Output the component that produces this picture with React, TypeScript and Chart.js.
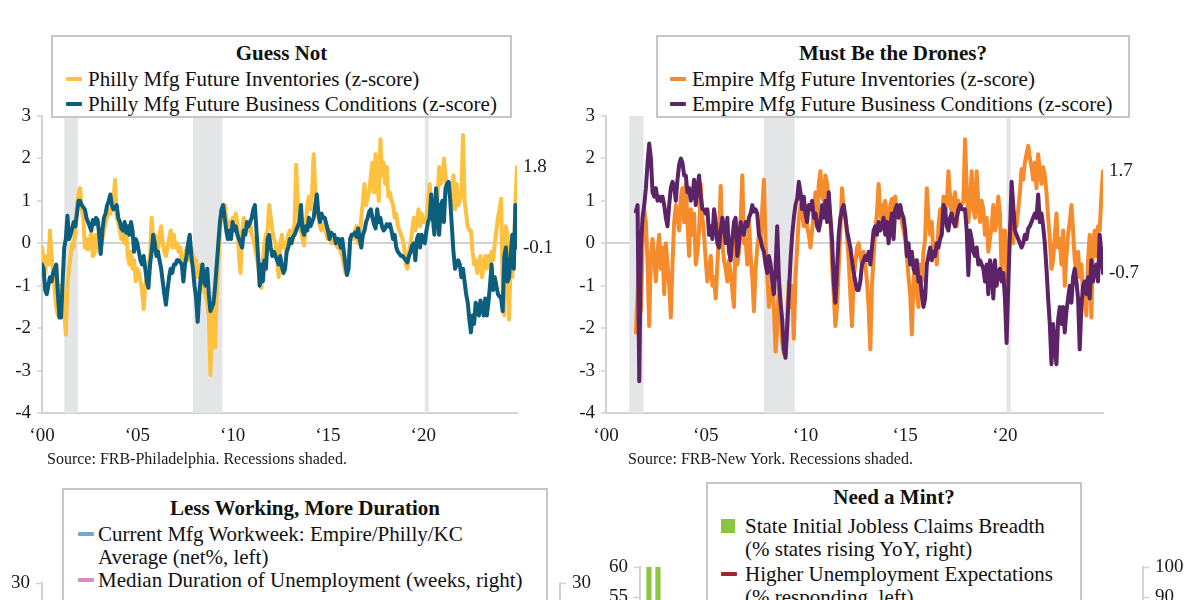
import React, { useEffect, useRef } from "react";
import { Chart, registerables } from "chart.js";

Chart.register(...registerables);

const SERIF = "'Liberation Serif', 'Times New Roman', serif";
const TEXT = "#1a1a1a";
const AXIS = "#d2d2d2";

// ---------- shared axis data ----------
const yearTicks = [2000, 2005, 2010, 2015, 2020];
const yearTickLabels = ["\u201800", "\u201805", "\u201810", "\u201815", "\u201820"];
const recessionStarts = [2001.17, 2007.92, 2020.08];
const recessionEnds = [2001.88, 2009.46, 2020.29];

// ---------- Guess Not (monthly, Jan 2000 - Dec 2024) ----------
const phillyStart = 2000;
const phillyInventories = [
  -0.1, -0.4, -0.7, -0.3, -0.5, 0.3, -0.3, -0.7, -1.1, -1.5, -1.7, -1.0,
  -1.3, -1.1, -1.6, -2.15, -1.0, -0.6, -0.3, 0.0, -0.1, 0.3, 0.85, 1.2,
  1.3, 0.8, 0.6, -0.1, 0.1, -0.15, 0.0, 0.3, -0.3, -0.25, 0.2, 0.1, -0.2,
  -0.1, 0.1, 0.3, 0.5, 0.6, 0.8, 0.7, 0.9, 1.0, 1.5, 0.6, 0.5,
  0.3, 0.1, 0.2, 0.0, 0.3, -0.3, -0.5, -0.2, -0.6, -0.4, -0.9, -0.6,
  -0.7, -0.9, -1.1, -1.55, -1.0, -0.8, -0.5, -0.3, 0.6, 0.1, 0.2, -0.1,
  -0.2, 0.2, 0.4, 0.0, -0.2, -0.3, -0.1, 0.1, 0.3, -0.1, 0.2, -0.1, 0.0,
  -0.2, -0.1, -0.4, -0.7, -0.3, -0.1, -0.4, -0.3, -0.1, -0.3, -0.5, -0.4,
  -0.8, -0.6, -0.5, -0.9, -1.1, -1.2, -1.4, -1.7, -3.1, -1.9, -1.5, -2.45,
  -1.2, -0.5, 0.3, 0.7, 0.75, 0.9, 0.6, 0.4, 0.5, 0.3, 0.6, 0.5,
  0.7, 0.5, -0.3, -0.7, 0.3, 0.6, 0.5, 0.4, 0.3, 0.5, 0.2, 0.1, -0.1,
  -0.3, -0.5, -0.8, -1.05, -0.4, 0.0, 0.2, 0.3, 0.9, 0.6, 0.3, 0.1,
  0.0, -0.4, -0.8, 0.0, 0.2, -0.1, 0.0, -0.2, 0.2, 0.3, 0.0, 0.1,
  0.5, 1.85, 0.9, 0.5, 0.3, 0.1, -0.05, 0.4, 0.9, 1.1, 0.8, 1.2,
  2.1, 1.3, 0.8, 0.6, 0.4, 0.3, 0.4, 0.5, 0.2, 0.1, 0.3, 0.0, 0.2,
  0.0, 0.1, -0.1, 0.0, -0.2, -0.3, -0.5, -0.7, -0.6, -0.4, 0.1, 0.2,
  0.1, 0.3, 0.4, 0.0, 0.2, 0.6, 1.0, 1.4, 0.9, 1.1, 1.2, 1.6,
  1.9, 1.2, 2.1, 1.5, 1.0, 2.45, 1.6, 1.9, 1.4, 1.8, 1.1, 1.2,
  1.0, 0.9, 0.6, 0.7, 0.4, 0.3, 0.2, 0.1, -0.1, -0.5, -0.6, -0.2, 0.0,
  0.3, 0.6, 0.3, 0.5, 0.8, 0.4, 0.7, 0.5, 0.5, 0.6, 1.0, 1.4,
  1.0, 0.7, 0.4, 0.3, 1.1, 1.8, 1.4, 1.5, 2.0, 1.6, 1.2, 1.3,
  1.1, 0.9, 1.6, 0.8, 1.4, 0.9, 1.0, 1.2, 2.55, 1.0, 0.7, 0.4, 0.3,
  0.3, -0.2, -0.5, -0.4, -0.7, -0.5, -0.3, -0.8, -0.5, -0.3, -0.6, -0.3,
  -0.5, -0.2, -0.4, 0.0, 0.3, 0.6, 0.8, 1.05, -1.1, -1.7, 0.4, 0.2, -1.8,
  -0.4, -0.8, -0.3, 1.0, 1.8,
];
const phillyBusiness = [
  -0.5, -0.6, -1.1, -1.2, -1.0, -0.8, -0.9, -0.7, -0.6, -0.5, -1.2, -1.75,
  -1.75, -0.9, -0.1, 0.1, 0.65, 0.1, 0.2, 0.35, 0.5, 0.4, 0.7, 1.0,
  1.0, 0.9, 0.85, 0.8, 0.6, 0.5, 0.4, 0.3, 0.55, 0.45, 0.6, 0.55, 0.2,
  -0.25, 0.3, 0.6, 0.7, 0.9, 1.0, 1.15, 0.9, 0.8, 0.85, 0.9, 0.6,
  0.5, 0.35, 0.3, 0.5, 0.25, 0.4, 0.2, 0.5, 0.3, -0.2, 0.1, 0.0,
  -0.2, -0.4, -0.5, -0.3, -0.6, -0.9, -1.05, -0.5, -0.2, 0.2, 0.0, -0.3,
  -0.2, -0.4, -0.6, -0.9, -1.2, -1.45, -1.1, -0.8, -0.6, -0.7, -0.5, -0.5, -0.4,
  -0.4, -0.45, -0.5, -0.9, -0.5, -0.3, 0.0, 0.2, -0.3, -0.6, -1.0, -1.3,
  -1.85, -1.2, -0.8, -0.5, -0.9, -1.0, -0.6, -1.2, -1.6, -1.5, -1.4, -1.0,
  -0.5, 0.0, 0.5, 0.8, 0.9, 0.6, 0.3, 0.1, 0.3, 0.1, 0.5, 0.3,
  0.4, 0.2, 0.1, 0.0, -0.1, 0.3, 0.2, 0.5, 0.4, 0.5, 0.6, 0.8, 0.9,
  0.3, -0.3, -1.0, -0.5, -0.9, -0.4, -0.6, 0.1, 0.2, -0.1, -0.3, -0.2,
  -0.3, -0.4, -0.5, -0.3, -0.55, -0.7, -0.6, -0.2, -0.1, 0.1, 0.0, 0.15,
  0.2, 0.3, 0.4, 0.5, 0.9, 0.3, 0.2, 0.4, 0.3, 0.6, 0.4, 0.5,
  0.6, 0.9, 1.15, 0.7, 0.5, 0.7, 0.6, 0.6, 0.45, 0.3, 0.1, 0.25, 0.2,
  0.2, 0.0, 0.1, 0.1, -0.1, 0.1, -0.2, -0.5, -0.75, -0.6, 0.1, 0.2,
  0.2, 0.25, 0.15, 0.35, 0.1, -0.1, 0.2, 0.3, 0.5, 0.6, 0.75, 0.8,
  0.6, 0.45, 0.35, 0.8, 0.5, 0.6, 0.4, 0.3, 0.35, 0.45, 0.4, 0.45,
  0.3, 0.1, 0.2, -0.1, -0.2, -0.25, -0.3, -0.3, -0.35, -0.4, -0.45, -0.3, -0.2,
  -0.05, 0.0, -0.4, 0.1, 0.2, -0.1, 0.2, 0.1, 0.0, 0.3, 0.5, 0.6,
  1.15, 0.6, 0.2, 1.3, 0.8, 0.2, 0.9, 1.0, 0.5, 1.3, 1.4, 1.45,
  1.0, 0.4, -0.2, -0.6, -0.5, -0.4, -0.5, -0.8, -0.6, -0.9, -1.2, -1.4, -1.8,
  -2.1, -1.7, -1.9, -1.4, -1.5, -1.7, -1.35, -1.5, -1.7, -1.3, -1.7, -1.4,
  -1.0, -0.5, -1.1, -0.8, -1.0, -1.2, -1.25, -1.3, -1.6, -0.3, -0.1, -0.9, -0.8,
  -0.3, 0.2, -0.6, 0.9, -0.1,
];

// ---------- Must Be the Drones? (monthly, Jul 2001 - Dec 2024) ----------
const empireStart = 2001.5;
const empireInventories = [
  -2.1, -1.2, -0.5, -1.6, 0.0, 0.8,
  0.5, -0.5, -1.95, -0.3, 0.1, -0.4, -0.9, -0.2, 0.2, -0.6, -0.1, -1.2,
  0.0, -0.5, -1.0, -1.75, -0.5, 0.5, 0.9, 0.6, 0.3, 1.1, 1.3, 0.5,
  1.4, 0.5, -0.3, 0.8, 0.2, 0.7, -0.5, -0.2, 0.3, 1.4, 0.6, 0.2,
  -0.4, -0.9, -0.6, -0.3, -1.0, -0.8, -1.3, -0.5, 0.2, 1.35, 0.0, -0.4,
  -0.6, -0.9, -0.4, -0.7, -1.1, -1.5, 0.2, -0.5, -0.2, 0.5, 1.6, 0.0,
  0.1, -0.5, 0.6, -0.3, -0.8, -1.6, -0.6, -0.1, 0.2, 0.1, 0.8, 1.5,
  0.0, -0.7, -1.5, -1.2, -1.0, -1.5, -2.55, -2.0, -1.0, -1.4, -2.3, -2.6,
  -2.6, -1.8, -0.9, -1.5, -1.0, -2.25, -0.8, -0.1, 0.6, 0.9, 0.7, 0.4,
  0.8, 0.4, 0.2, -0.1, 0.3, 0.7, 1.2, 0.4, 1.4, 1.7, 1.1, 1.0,
  1.6, 1.4, 1.0, 0.6, -0.5, -1.2, -1.95, -1.5, -0.6, 0.3, 1.3, 0.8,
  0.7, 0.2, -0.4, -1.2, -1.95, -0.8, -0.5, -0.1, 0.0, -0.3, -0.5, -0.2,
  -0.5, -0.9, -1.5, -2.5, -1.0, -0.3, 0.3, 0.7, 1.4, 0.7, 0.5, 0.9,
  1.0, 0.6, 0.3, 0.9, 1.05, 0.4, 1.1, 0.7, 0.8, 0.9, 0.5, 0.3,
  0.1, -0.3, -0.8, -1.2, -2.15, -0.9, -0.4, -1.2, -1.5, -0.5, -0.9, -0.2,
  0.1, 1.3, 0.6, 0.2, 0.5, -0.3, 0.0, -0.5, 0.4, 0.8, 0.3, 1.1,
  0.7, 0.9, 1.7, 1.1, 0.6, 1.0, 1.2, 0.4, 1.0, 0.8, 0.9, 1.0,
  2.45, 1.3, 0.5, 1.0, 1.7, 0.8, 0.6, 1.7, 0.9, 0.5, 1.0, 0.8,
  0.2, 0.6, -0.2, 0.1, 0.4, 0.9, 0.3, 0.5, 1.1, 0.7, -0.7, 0.3,
  0.3, -0.9, -0.5, 0.4, 0.6, 0.0, 0.7, 0.4, 0.8, 1.2, 1.75, 1.5,
  1.9, 2.1, 2.3, 2.0, 1.8, 1.5, 1.9, 1.3, 2.1, 1.7, 1.4, 1.8,
  1.6, 1.2, 0.6, 0.1, -0.6, -0.4, 0.2, 0.7, -0.1, 0.1, -0.5, 0.3,
  -1.0, -0.3, 0.2, 0.5, 0.9, 0.3, -0.4, -0.7, -0.2, -0.8, -0.5, -1.2,
  -1.4, -1.7, -0.4, 0.2, -1.75, 0.0, 0.3, -0.3, 0.4, 0.3, 1.1, 1.7,
];
const empireBusiness = [
  0.75, 0.9, -3.25, -0.1, 0.6, 0.9,
  1.3, 1.9, 2.35, 2.0, 1.2, 1.1, 1.3, 1.0, 1.1, 1.0, 1.1, 0.9,
  0.6, 0.4, 0.9, 1.3, 1.45, 1.35, 1.0, 1.5, 1.85, 2.0, 1.9, 1.6,
  1.6, 1.2, 1.3, 1.0, 1.1, 1.5, 0.9, 1.3, 1.6, 1.1, 0.8, 0.8,
  0.7, 0.8, 0.2, 0.4, 0.1, 0.8, 0.5, 0.0, -0.1, 0.3, 0.6, 0.4,
  0.0, 0.6, -0.2, -0.4, 0.1, 0.5, 0.6, -0.3, 0.0, 0.5, 0.3, 0.2,
  0.5, 0.4, 0.6, 0.7, 0.9, 0.75, 0.8, 0.7, 0.2, 0.1, -0.1, -0.2,
  -0.5, -0.7, -0.3, -0.5, -0.9, -1.2, -0.6, 0.4, -0.8, -1.4, -1.8, -2.5,
  -2.7, -2.0, -1.2, -0.4, 0.2, 0.6, 0.9, 1.05, 1.45, 1.2, 0.8, 1.1,
  0.7, 0.5, 0.9, 0.8, 1.0, 0.6, 0.7, 0.4, 0.3, 0.5, 0.9, 0.6,
  1.0, 0.5, 1.2, 0.6, 0.1, -0.9, -1.4, -0.6, 0.2, 0.6, 0.8, 0.9,
  0.6, 0.3, 0.1, -0.1, -0.4, -0.7, -0.9, -1.1, -1.1, -0.9, -0.5, -0.4,
  -0.3, -0.4, -0.2, -0.5, -0.1, 0.3, 0.4, 0.2, 0.5, 0.3, 0.4, 0.6,
  0.2, 0.5, 0.0, 0.4, 0.7, 0.1, 0.8, 0.9, 0.6, 0.9, 0.7, 0.6,
  0.3, -0.3, 0.0, -0.5, -0.2, -0.6, -0.7, -0.4, -0.9, -0.8, -1.2, -1.5,
  -1.3, -0.5, -0.3, -0.1, -0.4, -0.2, -0.3, 0.0, -0.1, 0.1, 0.2, 0.9,
  0.8, 0.4, 0.3, 0.6, 0.7, 0.5, 0.4, 0.6, 0.8, 0.9, 0.8, 0.8,
  0.8, 0.3, -0.75, 0.3, 0.1, -0.2, -0.3, -0.1, -0.5, -0.4, -0.5, -0.6,
  -0.9, -0.5, -1.2, -0.4, -0.6, -1.3, -0.4, -1.0, -0.7, -0.6, -0.9, -0.7,
  -1.3, -2.35, -1.0, 0.2, 1.45, 0.9, 0.3, 0.2, 0.1, 0.0, -0.1, 0.0,
  0.2, 0.1, 0.35, 0.4, 0.5, 0.6, 0.7, 0.6, 1.15, 0.5, 0.7, 0.4,
  0.0, -0.6, -1.3, -1.9, -2.85, -1.9, -2.4, -2.85, -1.8, -1.5, -1.9, -1.5,
  -2.1, -1.6, -1.3, -1.0, -1.4, -0.8, -0.6, -0.9, -1.3, -2.5, -1.5, -1.0,
  -0.9, -1.2, -0.8, -1.3, -0.4, -0.9, -0.6, -0.5, -0.9, 0.2, -0.2, -0.7,
];

// ---------- bottom panels (only their top edge is inside the picture) ----------
const workweekNetPct: number[] = []; // below the visible area
const medianDurationWeeks: number[] = []; // below the visible area
const claimsPeriods = [1, 2];
const claimsBreadthPct = [100, 100];
const unemploymentExpectationsPct: number[] = []; // below the visible area

const monthly = (start: number, vals: number[]) =>
  vals.map((v, i) => ({ x: start + i / 12, y: v }));

const recessionPlugin = {
  id: "recessions",
  beforeDatasetsDraw(chart: any) {
    const { ctx, chartArea, scales } = chart;
    const xs = scales.x;
    ctx.save();
    ctx.fillStyle = "#e4e5e7";
    recessionStarts.forEach((s, i) => {
      const x0 = xs.getPixelForValue(s);
      const x1 = xs.getPixelForValue(recessionEnds[i]);
      ctx.fillRect(x0, chartArea.top, x1 - x0, chartArea.bottom - chartArea.top);
    });
    ctx.restore();
  },
};

const endLabelPlugin = {
  id: "endLabels",
  afterDatasetsDraw(chart: any) {
    const { ctx, chartArea } = chart;
    ctx.save();
    ctx.font = `19px ${SERIF}`;
    ctx.fillStyle = TEXT;
    ctx.textBaseline = "middle";
    ctx.textAlign = "left";
    chart.data.datasets.forEach((ds: any, i: number) => {
      const meta = chart.getDatasetMeta(i);
      const pt = meta.data[meta.data.length - 1];
      const v = ds.data[ds.data.length - 1].y;
      ctx.fillText(v.toFixed(1), chartArea.right + 6, pt.y);
    });
    ctx.restore();
  },
};

function zScoreConfig(datasets: any[], axisWidth: number, padRight: number) {
  return {
    type: "line",
    data: { datasets },
    options: {
      animation: false,
      responsive: false,
      maintainAspectRatio: false,
      layout: { padding: { top: 116, right: padRight, bottom: 37, left: 0 } },
      plugins: { legend: { display: false }, tooltip: { enabled: false } },
      elements: {
        point: { radius: 0 },
        line: { borderWidth: 4, tension: 0, borderJoinStyle: "round", borderCapStyle: "round" },
      },
      scales: {
        x: {
          type: "linear",
          min: 2000,
          max: 2024 + 11 / 12,
          afterBuildTicks: (s: any) => {
            s.ticks = yearTicks.map((v) => ({ value: v }));
          },
          afterFit: (s: any) => {
            s.height = 30;
          },
          grid: { display: true, color: "rgba(0,0,0,0)", drawTicks: false },
          border: { display: true, color: AXIS, width: 2 },
          ticks: {
            autoSkip: false,
            maxRotation: 0,
            padding: 12,
            color: TEXT,
            font: { size: 19, family: SERIF },
            callback: (v: number) => yearTickLabels[yearTicks.indexOf(v)] ?? "",
          },
        },
        y: {
          min: -4,
          max: 3,
          afterFit: (s: any) => {
            s.width = axisWidth;
          },
          ticks: { stepSize: 1, padding: 6, color: TEXT, font: { size: 19, family: SERIF } },
          grid: {
            color: (c: any) => (c.tick && c.tick.value === 0 ? AXIS : "rgba(0,0,0,0)"),
            lineWidth: 2,
            tickColor: AXIS,
            tickLength: 5,
            tickWidth: 1.5,
          },
          border: { display: true, color: AXIS, width: 2 },
        },
      },
    },
    plugins: [recessionPlugin, endLabelPlugin],
  };
}

const phillyConfig = () =>
  zScoreConfig(
    [
      {
        label: "Philly Mfg Future Inventories (z-score)",
        data: monthly(phillyStart, phillyInventories),
        borderColor: "#fcc13f",
        order: 2,
      },
      {
        label: "Philly Mfg Future Business Conditions (z-score)",
        data: monthly(phillyStart, phillyBusiness),
        borderColor: "#0d5d7d",
        order: 1,
      },
    ],
    42,
    43
  );

const empireConfig = () =>
  zScoreConfig(
    [
      {
        label: "Empire Mfg Future Inventories (z-score)",
        data: monthly(empireStart, empireInventories),
        borderColor: "#f68b2c",
        order: 2,
      },
      {
        label: "Empire Mfg Future Business Conditions (z-score)",
        data: monthly(empireStart, empireBusiness),
        borderColor: "#5c2366",
        order: 1,
      },
    ],
    46,
    97
  );

const sideAxis = (pos: string, min: number, max: number, step: number, width: number) => ({
  position: pos,
  min,
  max,
  afterFit: (s: any) => {
    s.width = width;
  },
  ticks: { stepSize: step, padding: 6, color: TEXT, font: { size: 19, family: SERIF } },
  grid: { drawOnChartArea: false, tickColor: AXIS, tickLength: 6, tickWidth: 1.5 },
  border: { display: true, color: AXIS, width: 2 },
});

const workweekConfig = () => ({
  type: "line",
  data: {
    datasets: [
      {
        label: "Current Mfg Workweek: Empire/Philly/KC Average (net%, left)",
        data: workweekNetPct,
        borderColor: "#6fa8dc",
        yAxisID: "yL",
      },
      {
        label: "Median Duration of Unemployment (weeks, right)",
        data: medianDurationWeeks,
        borderColor: "#d98cc3",
        yAxisID: "yR",
      },
    ],
  },
  options: {
    animation: false,
    responsive: false,
    maintainAspectRatio: false,
    layout: { padding: { top: 43, right: 0, bottom: 20, left: 0 } },
    plugins: { legend: { display: false }, tooltip: { enabled: false } },
    scales: {
      x: { type: "linear", display: false, min: 0, max: 1 },
      yL: sideAxis("left", -30, 30, 10, 42),
      yR: sideAxis("right", 0, 30, 5, 40),
    },
  },
});

const mintConfig = () => ({
  type: "bar",
  data: {
    datasets: [
      {
        type: "bar",
        label: "State Initial Jobless Claims Breadth (% states rising YoY, right)",
        data: claimsPeriods.map((p, i) => ({ x: p, y: claimsBreadthPct[i] })),
        backgroundColor: "#8cc63f",
        barThickness: 4.5,
        yAxisID: "yR",
      },
      {
        type: "line",
        label: "Higher Unemployment Expectations (% responding, left)",
        data: unemploymentExpectationsPct,
        borderColor: "#a0232f",
        yAxisID: "yL",
      },
    ],
  },
  options: {
    animation: false,
    responsive: false,
    maintainAspectRatio: false,
    layout: { padding: { top: 27, right: 0, bottom: 10, left: 0 } },
    plugins: { legend: { display: false }, tooltip: { enabled: false } },
    scales: {
      x: { type: "linear", display: false, min: 0, max: 56, offset: false },
      yL: sideAxis("left", 10, 60, 5, 40),
      yR: sideAxis("right", 0, 100, 10, 57),
    },
  },
});

function ChartCanvas(props: { left: number; top: number; width: number; height: number; makeConfig: () => any }) {
  const ref = useRef<HTMLCanvasElement>(null);
  useEffect(() => {
    const chart = new Chart(ref.current as HTMLCanvasElement, props.makeConfig());
    return () => chart.destroy();
  }, []);
  return (
    <canvas
      ref={ref}
      width={props.width}
      height={props.height}
      style={{ position: "absolute", left: props.left, top: props.top, width: props.width, height: props.height }}
    />
  );
}

type Item = { kind: "line" | "square"; color?: string; x: number; y: number; text: string; textX: number };

function LegendBox(props: {
  left: number;
  top: number;
  width: number;
  height: number;
  title: string;
  titleY: number;
  items: Item[];
}) {
  const { left, top, width, height, title, titleY, items } = props;
  return (
    <>
      <div
        style={{
          position: "absolute",
          left,
          top,
          width,
          height,
          boxSizing: "border-box",
          border: "2px solid #c6c6c6",
          background: "#ffffff",
        }}
      />
      <div
        style={{
          position: "absolute",
          left,
          width,
          top: titleY - 12.5,
          lineHeight: "25px",
          fontSize: 21,
          fontWeight: "bold",
          textAlign: "center",
          fontFamily: SERIF,
          color: "#111",
          whiteSpace: "nowrap",
        }}
      >
        {title}
      </div>
      {items.map((it, i) => (
        <React.Fragment key={i}>
          {it.color &&
            (it.kind === "line" ? (
              <div
                style={{
                  position: "absolute",
                  left: it.x,
                  top: it.y - 2,
                  width: 16,
                  height: 4,
                  background: it.color,
                  borderRadius: 1,
                }}
              />
            ) : (
              <div style={{ position: "absolute", left: it.x, top: it.y - 7, width: 14, height: 14, background: it.color }} />
            ))}
          <div
            style={{
              position: "absolute",
              left: it.textX,
              top: it.y - 12.5,
              lineHeight: "25px",
              fontSize: 21,
              fontFamily: SERIF,
              color: "#111",
              whiteSpace: "nowrap",
            }}
          >
            {it.text}
          </div>
        </React.Fragment>
      ))}
    </>
  );
}

const sourceStyle = (left: number, top: number): React.CSSProperties => ({
  position: "absolute",
  left,
  top: top - 10,
  lineHeight: "20px",
  fontSize: 16,
  fontFamily: SERIF,
  color: TEXT,
  whiteSpace: "nowrap",
});

export default function App() {
  return (
    <div
      style={{
        position: "absolute",
        left: 0,
        top: 0,
        width: 1200,
        height: 600,
        overflow: "hidden",
        background: "#ffffff",
      }}
    >
      <ChartCanvas left={0} top={0} width={560} height={480} makeConfig={phillyConfig} />
      <ChartCanvas left={560} top={0} width={640} height={480} makeConfig={empireConfig} />
      <ChartCanvas left={0} top={540} width={600} height={360} makeConfig={workweekConfig} />
      <ChartCanvas left={600} top={540} width={600} height={347} makeConfig={mintConfig} />

      <LegendBox
        left={51}
        top={35}
        width={461}
        height={83}
        title="Guess Not"
        titleY={53}
        items={[
          { kind: "line", color: "#fcc13f", x: 66, y: 79, textX: 88, text: "Philly Mfg Future Inventories (z-score)" },
          { kind: "line", color: "#0d5d7d", x: 66, y: 104, textX: 88, text: "Philly Mfg Future Business Conditions (z-score)" },
        ]}
      />
      <LegendBox
        left={656}
        top={35}
        width={474}
        height={83}
        title="Must Be the Drones?"
        titleY={53}
        items={[
          { kind: "line", color: "#f68b2c", x: 670, y: 79, textX: 692, text: "Empire Mfg Future Inventories (z-score)" },
          { kind: "line", color: "#5c2366", x: 670, y: 104, textX: 692, text: "Empire Mfg Future Business Conditions (z-score)" },
        ]}
      />
      <div style={sourceStyle(47, 459)}>Source: FRB-Philadelphia. Recessions shaded.</div>
      <div style={sourceStyle(628, 459)}>Source: FRB-New York. Recessions shaded.</div>

      <LegendBox
        left={62}
        top={488}
        width={486}
        height={140}
        title="Less Working, More Duration"
        titleY={508}
        items={[
          { kind: "line", color: "#6fa8dc", x: 78, y: 534, textX: 98, text: "Current Mfg Workweek: Empire/Philly/KC" },
          { kind: "line", x: 78, y: 557, textX: 98, text: "Average (net%, left)" },
          { kind: "line", color: "#d98cc3", x: 78, y: 580, textX: 98, text: "Median Duration of Unemployment (weeks, right)" },
        ]}
      />
      <LegendBox
        left={706}
        top={482}
        width={376}
        height={140}
        title="Need a Mint?"
        titleY={497}
        items={[
          { kind: "square", color: "#8cc63f", x: 721, y: 526, textX: 745, text: "State Initial Jobless Claims Breadth" },
          { kind: "square", x: 721, y: 549, textX: 745, text: "(% states rising YoY, right)" },
          { kind: "line", color: "#a0232f", x: 721, y: 574, textX: 745, text: "Higher Unemployment Expectations" },
          { kind: "line", x: 721, y: 597, textX: 745, text: "(% responding, left)" },
        ]}
      />
    </div>
  );
}
